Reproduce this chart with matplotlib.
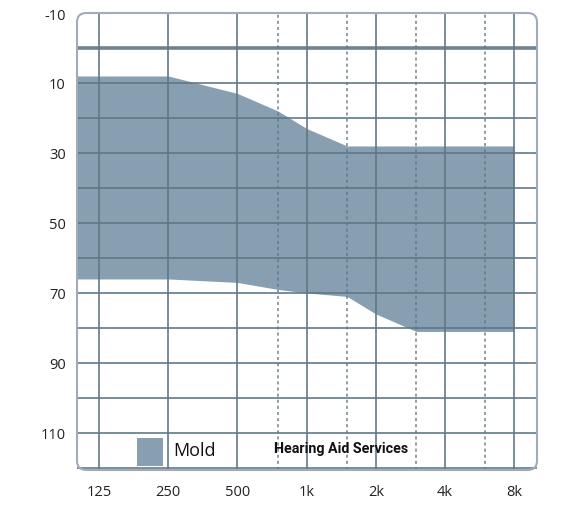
import matplotlib.pyplot as plt
import numpy as np
from matplotlib.patches import FancyBboxPatch, Rectangle

# audiogram data (frequency in Hz, hearing level in dB)
freqs = [125, 250, 500, 750, 1000, 1500, 2000, 3000, 4000, 6000, 8000]
upper = [8, 8, 13, 18, 23, 28, 28, 28, 28, 28, 28]
lower = [66, 66, 67, 69, 70, 71, 76, 81, 81, 81, 81]

main_freqs = [125, 250, 500, 1000, 2000, 4000, 8000]
main_labels = ["125", "250", "500", "1k", "2k", "4k", "8k"]
half_freqs = [750, 1500, 3000, 6000]
y_ticks = [-10, 10, 30, 50, 70, 90, 110]

fill_col = "#879fb0"
grid_col = "#5f7687"

plt.rcParams['font.family'] = ['Open Sans', 'DejaVu Sans']

fig = plt.figure(figsize=(5.66, 5.06), dpi=100)
ax = fig.add_axes([77/566, 1-471/506, 460/566, 457/506])

x = np.log2(np.array(freqs) / 125.0)
xl = (-0.32, 6.33)
# band extends to left edge of the plot
xs = np.concatenate([[xl[0]], x])
up = np.concatenate([[upper[0]], upper])
lo = np.concatenate([[lower[0]], lower])
ax.fill_between(xs, up, lo, color=fill_col, lw=0, zorder=1)

for f in main_freqs:
    ax.axvline(np.log2(f/125), color=grid_col, lw=1.3, alpha=0.9, zorder=2)
for f in half_freqs:
    ax.axvline(np.log2(f/125), color=grid_col, lw=1.1, ls=(0, (2, 2)), alpha=0.9, zorder=2)
for v in range(0, 121, 10):
    ax.axhline(v, color=grid_col, lw=2.6 if v == 0 else 1.3, alpha=0.9, zorder=2)

ax.set_xlim(*xl)
ax.set_ylim(120.6, -10)
ax.set_yticks(y_ticks)
ax.set_yticklabels([str(t) for t in y_ticks], fontsize=10.5, color="#222222")
ax.set_xticks(np.log2(np.array(main_freqs)/125))
ax.set_xticklabels(main_labels, fontsize=10.5, color="#222222")
ax.tick_params(length=0, pad=8)
ax.tick_params(axis='x', pad=10)
for s in ax.spines.values():
    s.set_visible(False)

frame = FancyBboxPatch((0, 0), 1, 1, boxstyle="round,pad=0,rounding_size=0.02",
                       transform=ax.transAxes, fill=False, ec="#a3abbb", lw=1.5,
                       zorder=5, clip_on=False)
ax.add_patch(frame)

# legend
ax.add_patch(Rectangle((0.1304, 0.0088), 0.0566, 0.061, transform=ax.transAxes,
                       color=fill_col, lw=0, zorder=6))
ax.text(0.2087, 0.043, "Mold", transform=ax.transAxes, ha="left", va="center",
        fontsize=13, color="#111111", zorder=6)
ax.text(0.574, 0.048, "Hearing Aid Services", transform=ax.transAxes,
        ha="center", va="center", fontsize=10.3, fontweight="bold",
        family=["Roboto", "DejaVu Sans"], color="#111111", zorder=6)

fig.savefig("out.png", dpi=100)
